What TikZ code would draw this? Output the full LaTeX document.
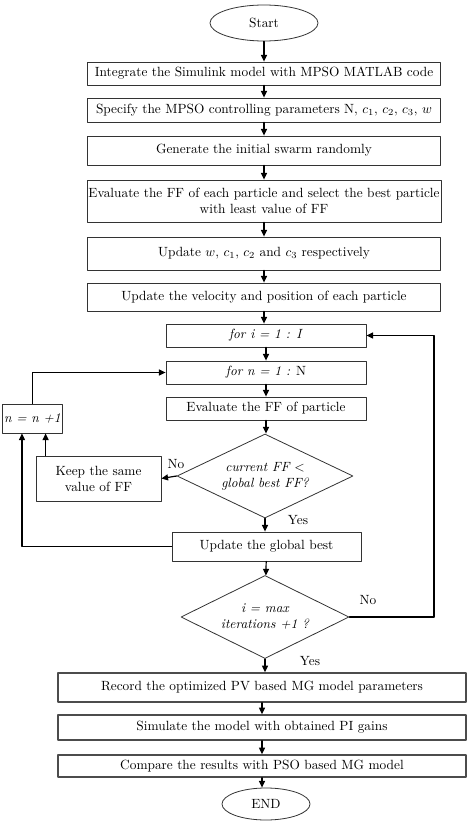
\documentclass[tikz,border=0pt]{standalone}
\usepackage{amssymb, amsmath}
\usetikzlibrary{arrows.meta, shapes}
\usetikzlibrary{calc}

\begin{document}
\begin{tikzpicture}[line cap=round,line join=round,>={Triangle[length=5pt,width=4.5pt]},x=0.75pt,y=-0.75pt,
  stepbox/.style={draw=black!80, line width=0.6pt, rectangle, inner sep=1pt, align=center, minimum width=264.75pt},
  loopbox/.style={draw=black!80, line width=0.6pt, rectangle, inner sep=1pt, align=center, minimum width=150pt, minimum height=17.25pt},
  endbox/.style={draw=black!70, line width=1.1pt, rectangle, inner sep=1pt, align=center, minimum width=306pt},
  term/.style={draw=black!80, line width=0.6pt, ellipse, inner sep=0pt},
  test/.style={draw=black!80, line width=0.6pt, diamond, aspect=2.1, inner sep=0pt, align=center, font=\itshape},
  flow/.style={->, line width=0.9pt},
  lbl/.style={inner sep=0pt}]
\useasboundingbox (0,0) rectangle (474,827);

% main column
\node[term, minimum width=81pt, minimum height=27pt] (start) at (264,23) {Start};
\node[stepbox, minimum height=17.25pt] (integ) at (264,73.5) {Integrate the Simulink model with MPSO MATLAB code};
\node[stepbox, minimum height=18pt] (spec) at (264,110) {Specify the MPSO controlling parameters N, $c_1$, $c_2$, $c_3$, $w$};
\node[stepbox, minimum height=21.75pt] (gen) at (264,150.5) {Generate the initial swarm randomly};
\node[stepbox, minimum height=31.5pt] (evalall) at (264,201) {Evaluate the FF of each particle and select the best particle\\with least value of FF};
\node[stepbox, minimum height=24.75pt] (upw) at (264,253.5) {Update $w$, $c_1$, $c_2$ and $c_3$ respectively};
\node[stepbox, minimum height=21pt] (upv) at (264,297) {Update the velocity and position of each particle};

% loops
\node[loopbox] (fori) at (266,335.5) {\textit{for i = 1 : I}};
\node[loopbox] (forn) at (266,372.5) {\textit{for n = 1 :} N};
\node[loopbox] (evalp) at (266,408.5) {Evaluate the FF of particle};
\node[test, minimum width=132pt, minimum height=63pt] (cmp) at (265,476) {current FF $<$\\global best FF?};
\node[draw=black!80, line width=0.6pt, inner sep=1pt, align=center, minimum width=93.75pt, minimum height=33.75pt] (keep) at (98.5,478.5) {Keep the same\\value of FF};
\node[draw=black!80, line width=0.6pt, inner sep=1pt, minimum width=44.25pt, minimum height=21.75pt] (inc) at (32.5,418.5) {\textit{n = n +1}};
\node[draw=black!80, line width=0.6pt, inner sep=1pt, minimum width=141.75pt, minimum height=21.75pt] (gbest) at (266.5,546.5) {Update the global best};
\node[test, minimum width=126pt, minimum height=62.25pt] (last) at (265,617) {i = max\\iterations +1 ?};
\coordinate (back) at (434,617);

% output
\node[endbox, minimum height=21.75pt] (rec) at (262,687.5) {Record the optimized PV based MG model parameters};
\node[endbox, minimum height=18.75pt] (sim) at (262,727.5) {Simulate the model with obtained PI gains};
\node[endbox, minimum height=16.5pt] (comp) at (262,766) {Compare the results with PSO based MG model};
\node[term, minimum width=66pt, minimum height=24pt] (fin) at (266,804) {END};

\draw[flow] (start) -- (integ);
\draw[flow] (integ) -- (spec);
\draw[flow] (spec) -- (gen);
\draw[flow] (gen) -- (evalall);
\draw[flow] (evalall) -- (upw);
\draw[flow] (upw) -- (upv);
\draw[flow] (upv.south) -- (upv.south |- fori.north);
\draw[flow] (fori) -- (forn);
\draw[flow] (forn) -- (evalp);
\draw[flow] (evalp.south) -- (evalp.south |- cmp.north);
\draw[flow] (cmp.west) -- (keep.east);
\draw[flow] (cmp.south) -- (cmp.south |- gbest.north);
\draw[flow] ([xshift=7.5pt]keep.north west) -- ([xshift=7.5pt]keep.north west |- inc.south);
\draw[flow] (gbest.west) -| ([xshift=-7.9pt]inc.south);
\draw[flow] (inc.north) |- (forn.west);
\draw[flow] (gbest) -- (last);
\draw[line width=0.9pt] (last.east) -- (back);
\draw[flow] (back) |- (fori.east);
\draw[flow] (last.south) -- (last.south |- rec.north);
\draw[flow] (rec) -- (sim);
\draw[flow] (sim) -- (comp);
\draw[flow] (comp.south) -- (comp.south |- fin.north);

\node[lbl] (no1) at (176,464) {No};
\node[lbl] (yes1) at (298,520) {Yes};
\node[lbl] (no2) at (368,600) {No};
\node[lbl] (yes2) at (310,661) {Yes};
\end{tikzpicture}
\end{document}
